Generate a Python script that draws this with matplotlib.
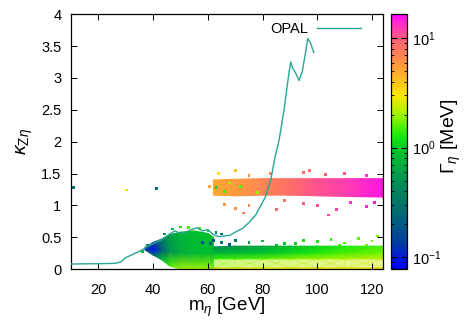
import numpy as np
import matplotlib
matplotlib.use("Agg")
import matplotlib.pyplot as plt
from matplotlib.colors import LinearSegmentedColormap, LogNorm

plt.rcParams["font.family"] = ["Liberation Sans", "DejaVu Sans"]
plt.rcParams["mathtext.fontset"] = "custom"
plt.rcParams["mathtext.rm"] = "Liberation Sans"
plt.rcParams["mathtext.it"] = "Liberation Sans:italic"

# OPAL limit curve
opal_m = [10, 20, 26, 28, 30, 33, 36, 38, 40, 43, 46, 48, 50, 52, 54, 56, 58, 60, 62,
          64, 66, 68, 70, 72.7, 75, 77.5, 79, 81, 83, 84.5, 86, 87.8, 89.6, 90.3, 91,
          91.8, 93.3, 94.5, 95.5, 96.5, 97.5, 98.7]
opal_k = [0.08, 0.085, 0.09, 0.11, 0.18, 0.24, 0.30, 0.36, 0.40, 0.46, 0.55, 0.60, 0.56,
          0.58, 0.62, 0.65, 0.60, 0.62, 0.54, 0.51, 0.52, 0.53, 0.58, 0.64, 0.73, 0.85,
          0.97, 1.13, 1.40, 1.75, 2.02, 2.49, 3.07, 3.25, 3.15, 3.10, 2.96, 3.10, 3.35,
          3.62, 3.55, 3.40]

# dense scan regions (edges in kappa, width Gamma at the edges)
up_m = [62, 70, 80, 90, 100, 110, 124]
up_lo = [1.16, 1.15, 1.16, 1.16, 1.15, 1.14, 1.13]
up_hi = [1.40, 1.41, 1.42, 1.42, 1.42, 1.42, 1.42]
up_g = [5.0, 5.6, 7.0, 8.5, 10.5, 12.0, 15.0]

cl_m = [37, 40, 43, 46, 50, 55, 60, 62]
cl_lo = [0.30, 0.22, 0.15, 0.05, 0.0, 0.0, 0.0, 0.0]
cl_mid = [0.32, 0.30, 0.30, 0.28, 0.26, 0.25, 0.25, 0.25]
cl_hi = [0.34, 0.42, 0.47, 0.54, 0.58, 0.60, 0.56, 0.50]
cl_g_lo = [0.2, 0.3, 0.8, 1.5, 2.0, 2.0, 2.0, 1.8]
cl_g_mid = [0.12, 0.09, 0.2, 0.5, 0.7, 0.8, 0.85, 0.8]
cl_g_hi = [0.25, 0.15, 0.35, 0.6, 0.8, 0.9, 0.9, 0.8]

lo_m = [62, 70, 80, 90, 100, 110, 124]
lo_lo = [0.16, 0.16, 0.16, 0.16, 0.16, 0.16, 0.16]
lo_mid = [0.26, 0.26, 0.26, 0.26, 0.26, 0.26, 0.26]
lo_hi = [0.35, 0.36, 0.36, 0.36, 0.36, 0.36, 0.36]
lo_g_lo = [1.4, 1.5, 1.6, 1.8, 2.0, 2.1, 2.3]
lo_g_mid = [0.75, 0.8, 0.9, 1.1, 1.3, 1.5, 1.7]
lo_g_hi = [0.5, 0.55, 0.7, 0.9, 1.1, 1.3, 1.5]

sp_lo = [0.02, 0.02, 0.02, 0.02, 0.02, 0.02, 0.02]
sp_hi = [0.16, 0.16, 0.16, 0.16, 0.16, 0.16, 0.16]
sp_g = [1.9, 2.0, 2.1, 2.2, 2.3, 2.4, 2.5]
bt_lo = [0.0, 0.0, 0.0, 0.0, 0.0, 0.0, 0.0]
bt_g = [3.2, 3.2, 3.3, 3.3, 3.4, 3.5, 3.5]

# scattered individual points
pt_m = [11, 30.2, 41.2, 60.5, 64, 70, 75, 83, 95, 97, 103, 110, 118,
        66, 70, 75, 85, 95, 100, 104, 107, 112, 118, 121, 73, 88,
        63, 66, 68, 72, 78,
        62, 65, 70, 75, 80, 88, 95, 100, 105, 110, 115, 120, 68, 85, 92, 108, 118, 122,
        38, 44, 47, 50, 53, 57, 60, 63, 65, 36, 58, 61]
pt_k = [1.28, 1.24, 1.27, 1.30, 1.50, 1.55, 1.47, 1.50, 1.52, 1.55, 1.48, 1.50, 1.47,
        1.02, 0.95, 1.00, 0.93, 1.03, 1.00, 0.85, 0.93, 1.05, 0.98, 1.05, 0.88, 1.08,
        1.28, 1.22, 1.35, 1.30, 1.20,
        0.45, 0.42, 0.45, 0.42, 0.44, 0.40, 0.45, 0.43, 0.46, 0.41, 0.48, 0.44, 0.39,
        0.38, 0.40, 0.38, 0.38, 0.52,
        0.38, 0.55, 0.63, 0.66, 0.65, 0.64, 0.60, 0.58, 0.55, 0.28, 0.42, 0.40]
pt_g = [0.3, 3.0, 0.3, 5.0, 3.0, 4.0, 6.0, 7.0, 9.0, 9.0, 10.0, 11.0, 13.0,
        6.0, 6.0, 7.0, 9.0, 10.0, 11.0, 12.0, 12.0, 13.0, 14.0, 15.0, 8.0, 9.0,
        1.0, 1.5, 2.0, 1.5, 2.0,
        0.2, 0.3, 0.3, 0.6, 0.8, 1.0, 1.2, 1.3, 1.4, 1.5, 1.6, 1.8, 0.2, 0.9, 1.1,
        1.4, 1.7, 1.8,
        0.5, 0.6, 0.8, 1.2, 1.5, 1.5, 1.2, 0.4, 0.3, 0.8, 0.15, 0.2]

cmap = LinearSegmentedColormap.from_list("pm", [
    (0.0, (0, 0, 1)), (0.1, (0, 0.24, 0.63)), (0.23, (0, 0.43, 0.43)),
    (0.36, (0, 0.59, 0.31)), (0.47, (0, 0.78, 0.16)), (0.53, (0.12, 0.92, 0.04)),
    (0.6, (0.59, 0.96, 0)), (0.68, (0.98, 0.9, 0)), (0.78, (1, 0.65, 0.2)),
    (0.89, (1, 0.41, 0.43)), (0.97, (1, 0.16, 0.82)), (1.0, (1, 0, 1))])
norm = LogNorm(vmin=0.0776, vmax=16.6)

fig = plt.figure(figsize=(4.74, 3.31), dpi=100)
ax = fig.add_axes([0.150, 0.187, 0.658, 0.770])
cax = fig.add_axes([0.825, 0.187, 0.034, 0.770])


def mesh(xs, rows, grows, **kw):
    X = np.vstack([xs] * len(rows))
    Y = np.vstack(rows)
    C = np.vstack(grows)
    return ax.pcolormesh(X, Y, C, shading="gouraud", cmap=cmap, norm=norm, **kw)


mesh(up_m, [up_lo, up_hi], [up_g, up_g])
mesh(lo_m, [bt_lo, sp_lo], [bt_g, bt_g], alpha=0.8)
mesh(lo_m, [sp_lo, sp_hi], [sp_g, sp_g], alpha=0.45)
mesh(lo_m, [lo_lo, lo_mid, lo_hi], [lo_g_lo, lo_g_mid, lo_g_hi])
sm = mesh(cl_m, [cl_lo, cl_mid, cl_hi], [cl_g_lo, cl_g_mid, cl_g_hi])

ax.scatter(pt_m, pt_k, c=pt_g, cmap=cmap, norm=norm, s=4, marker="s",
           linewidths=0, zorder=2)
ax.plot(opal_m, opal_k, color="#2aa593", lw=1.0, label="OPAL", zorder=3)

ax.set_xlim(10, 124)
ax.set_ylim(0, 4)
ax.set_xticks([20, 40, 60, 80, 100, 120])
ax.set_yticks([0, 0.5, 1, 1.5, 2, 2.5, 3, 3.5, 4])
ax.set_yticklabels(["0", "0.5", "1", "1.5", "2", "2.5", "3", "3.5", "4"])
ax.tick_params(direction="in", top=True, right=True, length=4, width=0.7,
               labelsize=10.5)
ax.tick_params(axis="x", pad=10)
ax.tick_params(axis="y", pad=7)
for s in ax.spines.values():
    s.set_linewidth(0.9)
ax.set_xlabel(r"m$_\eta$ [GeV]", fontsize=13.5, labelpad=-1)
ax.set_ylabel(r"$\kappa_{\mathrm{Z}\eta}$", fontsize=14, labelpad=4)
ax.legend(loc="upper right", bbox_to_anchor=(0.97, 1.02), frameon=False,
          markerfirst=False, handlelength=3.0, fontsize=10.5, handletextpad=0.6)

cb = fig.colorbar(sm, cax=cax)
cb.outline.set_linewidth(0.9)
cax.tick_params(which="both", direction="in", left=True, right=True, labelsize=10.5)
cax.tick_params(which="major", length=4)
cax.tick_params(which="minor", length=2.5)
fig.text(451 / 474, 1 - 136 / 331, r"$\Gamma_\eta$ [MeV]", rotation=90,
         ha="center", va="center", fontsize=14)

fig.savefig("out.png", dpi=100, facecolor="white")
